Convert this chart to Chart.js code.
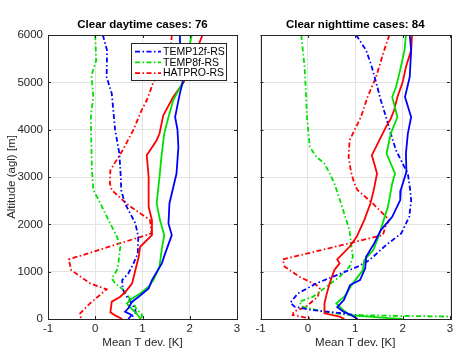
<!DOCTYPE html>
<html><head><meta charset="utf-8">
<script src="https://cdn.jsdelivr.net/npm/chart.js@4"></script>
<style>
html,body{margin:0;padding:0;background:#fff;}
#wrap{position:relative;width:474px;height:355px;overflow:hidden;}
.cv{position:absolute;top:0;}
</style></head><body>
<div id="wrap">
<canvas id="c1" class="cv" style="left:0" width="240" height="355"></canvas>
<canvas id="c2" class="cv" style="left:240px" width="234" height="355"></canvas>
</div>
<script>
// ---- tick labels / texts ----
const xTicks = [-1, 0, 1, 2, 3];
const yTicks = [0, 1000, 2000, 3000, 4000, 5000, 6000];
const panelTitles = ['Clear daytime cases: 76', 'Clear nighttime cases: 84'];
const seriesNames = ['TEMP12f-RS', 'TEMP8f-RS', 'HATPRO-RS'];
const xLabel = 'Mean T dev. [K]';
const yLabel = 'Altitude (agl) [m]';

// ---- daytime panel ----
const dayT12SolidAlt = [6000,5324,5000,4762,4268,4000,3636,3074,2441,2019,1772,1386,1175,823,647,471,366,226,155,85,0];
const dayT12SolidVal = [1.79,1.81,1.85,1.79,1.69,1.74,1.76,1.72,1.57,1.55,1.62,1.48,1.41,1.20,1.13,0.92,0.78,0.70,0.63,0.77,0.70];
const dayT12DashAlt = [6000,5676,5113,4762,4000,3496,3000,2722,2441,2019,1737,1386,1175,964,823,647,540,400,260,150,100,50,0];
const dayT12DashVal = [0.16,0.25,0.24,0.35,0.42,0.51,0.54,0.55,0.63,0.85,0.91,0.90,0.81,0.70,0.57,0.58,0.62,0.72,0.81,0.86,0.84,0.78,0.80];

const dayT8SolidAlt = [6000,5000,4621,4268,3918,3425,3000,2441,2089,1772,1492,1105,823,682,541,436,331,260,120,0];
const dayT8SolidVal = [2.04,1.85,1.65,1.55,1.46,1.40,1.36,1.30,1.37,1.46,1.41,1.36,1.23,1.13,0.95,0.78,0.67,0.72,0.87,0.96];
const dayT8DashAlt = [6000,5465,5148,4691,4340,4000,3144,2722,2441,2089,1737,1526,1175,1034,859,753,612,471,331,190,120,50,0];
const dayT8DashVal = [0.00,0.02,-0.08,-0.04,-0.09,-0.09,-0.07,-0.04,0.11,0.28,0.46,0.53,0.49,0.46,0.35,0.42,0.60,0.70,0.81,0.88,0.98,0.99,0.95];

const dayHatSolidAlt = [6000,5000,4691,4304,3918,3777,3460,3000,2370,2089,1772,1526,1315,1034,753,612,471,366,141,77,0];
const dayHatSolidVal = [2.27,1.87,1.65,1.44,1.36,1.30,1.09,1.13,1.13,1.20,1.20,0.95,0.92,0.85,0.78,0.67,0.53,0.35,0.32,0.42,0.57];
const dayHatDashAlt = [6000,5535,5000,4621,4410,4000,3566,3144,2863,2722,2405,2089,1808,1259,1034,753,626,331,120,0];
const dayHatDashVal = [1.62,1.58,1.23,1.09,0.98,0.81,0.58,0.32,0.31,0.35,0.70,1.16,1.19,-0.56,-0.51,-0.11,0.24,-0.11,-0.32,-0.30];

// ---- nighttime panel ----
const nightT12SolidAlt = [6000,5676,5113,4691,4268,3918,3496,3108,2722,2511,2159,1878,1597,1315,1070,823,717,541,400,250,150,80,0];
const nightT12SolidVal = [2.15,2.18,2.15,2.05,2.18,2.11,2.07,2.08,1.96,1.95,1.78,1.54,1.40,1.23,1.21,1.10,0.89,0.82,0.76,0.62,0.76,0.92,1.05];
const nightT12DashAlt = [6000,5676,5324,5000,4621,4268,3918,3566,3285,3074,2722,2511,2159,1808,1561,1245,1105,894,753,541,345,260,190,120,70];
const nightT12DashVal = [1.02,1.23,1.35,1.44,1.54,1.65,1.75,1.86,2.00,2.11,2.16,2.18,2.14,1.97,1.65,1.30,1.05,0.53,0.18,-0.21,-0.37,-0.28,0.08,0.71,1.10];

const nightT8SolidAlt = [6000,5676,5184,4902,4691,4268,3918,3496,3074,2863,2370,2089,1737,1456,1245,1034,753,471,331,190,84,50,20,0];
const nightT8SolidVal = [2.07,2.04,1.93,1.86,1.78,1.89,1.75,1.66,1.84,1.78,1.69,1.60,1.49,1.38,1.19,1.16,0.95,0.77,0.60,0.74,0.88,1.30,1.70,2.00];
const nightT8DashAlt = [6000,5324,4762,4268,3636,3425,3285,3074,2863,2441,2089,1878,1597,1315,1105,894,682,471,366,260,155,84,65,50];
const nightT8DashVal = [-0.14,-0.07,-0.04,-0.02,0.04,0.18,0.35,0.46,0.56,0.70,0.81,0.88,0.91,0.95,0.88,0.67,0.39,0.11,-0.18,-0.11,0.32,0.88,2.00,3.10];

const nightHatSolidAlt = [6000,5676,5324,5000,4691,4410,4234,4058,3777,3460,3215,3074,2722,2441,2089,1737,1526,1259,1175,1034,753,541,331,120,49,0];
const nightHatSolidVal = [2.20,2.18,2.07,2.00,1.89,1.82,1.75,1.65,1.51,1.35,1.42,1.46,1.39,1.32,1.19,1.03,0.88,0.62,0.67,0.56,0.46,0.40,0.35,0.35,0.67,0.77];
const nightHatDashAlt = [6000,5676,5113,4691,4268,3918,3777,3425,3108,2863,2722,2441,2230,2089,1983,1772,1259,1105,894,717,647,471,260,155,84,40,0];
const nightHatDashVal = [1.72,1.61,1.44,1.26,1.12,0.95,0.88,0.86,0.91,0.98,1.05,1.37,1.58,1.72,1.65,1.58,-0.53,-0.49,-0.18,0.18,0.25,0.21,-0.04,-0.30,-0.32,-0.10,0.10];

// ---- styles ----
const colors = ['#0000ff', '#00e000', '#ff0000'];
const dashDot = [5, 2.5, 1.5, 2.5];
const FONT = '"Liberation Sans", Arial, Helvetica, sans-serif';
const AXIS_COLOR = '#262626';
const GRID_COLOR = '#e4e4e4';

function pts(alt, val) { return alt.map((a, i) => ({x: val[i], y: a})); }
function ds(alt, val, ci, dashed, name) {
  return {
    label: name, data: pts(alt, val), showLine: true,
    borderColor: colors[ci], backgroundColor: colors[ci],
    borderWidth: 1.8, borderDash: dashed ? dashDot : [],
    pointRadius: 0, pointHoverRadius: 0, tension: 0, fill: false
  };
}

const framePlugin = {
  id: 'frame',
  afterDraw(chart, args, opts) {
    const {ctx, chartArea: a} = chart;
    const xs = chart.scales.x, ys = chart.scales.y;
    ctx.save();
    ctx.strokeStyle = AXIS_COLOR; ctx.lineWidth = 1;
    ctx.beginPath();
    const tl = 3;
    xTicks.forEach(v => {
      const px = Math.round(xs.getPixelForValue(v)) + 0.5;
      ctx.moveTo(px, a.bottom); ctx.lineTo(px, a.bottom - tl);
      ctx.moveTo(px, a.top); ctx.lineTo(px, a.top + tl);
    });
    yTicks.forEach(v => {
      const py = Math.round(ys.getPixelForValue(v)) + 0.5;
      ctx.moveTo(a.left, py); ctx.lineTo(a.left + tl, py);
      ctx.moveTo(a.right, py); ctx.lineTo(a.right - tl, py);
    });
    ctx.stroke();
    ctx.strokeRect(Math.round(a.left) + 0.5, Math.round(a.top) + 0.5,
                   Math.round(a.right - a.left), Math.round(a.bottom - a.top));
    // panel title
    ctx.fillStyle = '#000';
    ctx.font = 'bold 11.5px ' + FONT;
    ctx.textAlign = 'center'; ctx.textBaseline = 'middle';
    ctx.fillText(opts.title, (a.left + a.right) / 2, 25);
    // legend
    if (opts.legend) {
      const bx = 131, by = 43, bw = 95, bh = 37;
      ctx.fillStyle = '#fff';
      ctx.fillRect(bx, by, bw, bh);
      ctx.strokeStyle = AXIS_COLOR;
      ctx.strokeRect(bx + 0.5, by + 0.5, bw, bh);
      ctx.font = '10.5px ' + FONT;
      ctx.textAlign = 'left'; ctx.textBaseline = 'middle';
      seriesNames.forEach((n, i) => {
        const y = by + 8.7 + i * 10.7;
        ctx.beginPath();
        ctx.setLineDash(dashDot);
        ctx.lineWidth = 1.8;
        ctx.strokeStyle = colors[i];
        ctx.moveTo(bx + 4, y); ctx.lineTo(bx + 30, y);
        ctx.stroke();
        ctx.setLineDash([]);
        ctx.fillStyle = '#000';
        ctx.fillText(n, bx + 32, y + 0.5);
      });
    }
    ctx.restore();
  }
};

function makeChart(id, datasets, opts) {
  return new Chart(document.getElementById(id), {
    type: 'scatter',
    data: {datasets},
    plugins: [framePlugin],
    options: {
      responsive: false, animation: false, devicePixelRatio: 1,
      layout: {padding: {left: 0, right: opts.padRight, top: 35, bottom: 0}},
      plugins: {legend: {display: false}, tooltip: {enabled: false}, title: {display: false},
                frame: {title: opts.title, legend: opts.legend}},
      scales: {
        x: {
          type: 'linear', min: -1, max: 3,
          afterBuildTicks: s => { s.ticks = xTicks.map(v => ({value: v})); },
          ticks: {font: {size: 11.5, family: FONT}, color: AXIS_COLOR, padding: 3, maxRotation: 0},
          grid: {color: GRID_COLOR, drawTicks: false, lineWidth: 1},
          border: {display: false},
          title: {display: true, text: xLabel, color: AXIS_COLOR, font: {size: 11.5, family: FONT}, padding: {top: 0, bottom: 5}},
          afterFit: s => { s.height = 36; s.paddingLeft = 0; s.paddingRight = 0; }
        },
        y: {
          type: 'linear', min: 0, max: 6000,
          afterBuildTicks: s => { s.ticks = yTicks.map(v => ({value: v})); },
          ticks: {display: opts.yLabels, font: {size: 11.5, family: FONT}, color: AXIS_COLOR, padding: 5,
                  callback: v => String(v)},
          grid: {color: GRID_COLOR, drawTicks: false, lineWidth: 1},
          border: {display: false},
          title: {display: opts.yLabels, text: yLabel, color: AXIS_COLOR, font: {size: 11.5, family: FONT}, padding: {top: 5, bottom: 0}},
          afterFit: s => { s.width = opts.yWidth; s.paddingTop = 0; s.paddingBottom = 0; }
        }
      }
    }
  });
}

makeChart('c1', [
  ds(dayT12SolidAlt, dayT12SolidVal, 0, false, seriesNames[0]),
  ds(dayT8SolidAlt, dayT8SolidVal, 1, false, seriesNames[1]),
  ds(dayHatSolidAlt, dayHatSolidVal, 2, false, seriesNames[2]),
  ds(dayT12DashAlt, dayT12DashVal, 0, true, seriesNames[0]),
  ds(dayT8DashAlt, dayT8DashVal, 1, true, seriesNames[1]),
  ds(dayHatDashAlt, dayHatDashVal, 2, true, seriesNames[2])
], {padRight: 3, yWidth: 48, yLabels: true, title: panelTitles[0], legend: true});

makeChart('c2', [
  ds(nightT12SolidAlt, nightT12SolidVal, 0, false, seriesNames[0]),
  ds(nightT8SolidAlt, nightT8SolidVal, 1, false, seriesNames[1]),
  ds(nightHatSolidAlt, nightHatSolidVal, 2, false, seriesNames[2]),
  ds(nightT12DashAlt, nightT12DashVal, 0, true, seriesNames[0]),
  ds(nightT8DashAlt, nightT8DashVal, 1, true, seriesNames[1]),
  ds(nightHatDashAlt, nightHatDashVal, 2, true, seriesNames[2])
], {padRight: 24, yWidth: 20.5, yLabels: false, title: panelTitles[1], legend: false});
</script>
</body></html>
